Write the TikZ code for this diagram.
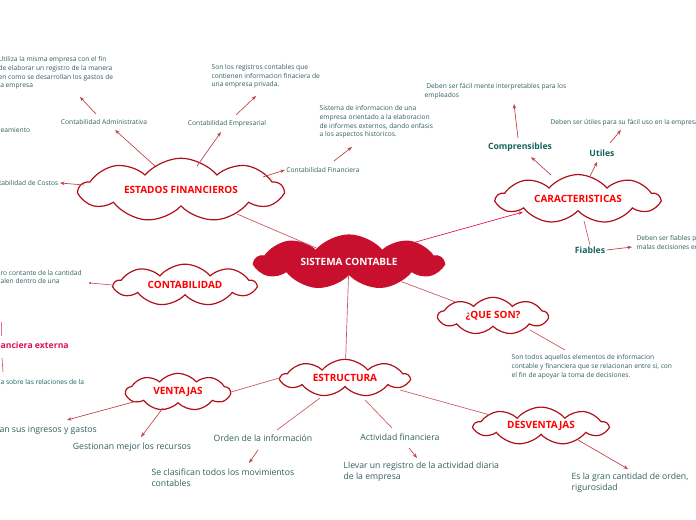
\documentclass[tikz,border=0pt]{standalone}
\usepackage{fontspec}
\setmainfont{Open Sans}
\usetikzlibrary{shapes.symbols,arrows.meta}
\definecolor{dred}{HTML}{B0101A}
\definecolor{crim}{HTML}{C8102E}
\definecolor{teal}{HTML}{2F5F5C}
\definecolor{bteal}{HTML}{17625C}
\definecolor{pinkc}{HTML}{E0105A}
\begin{document}
\begin{tikzpicture}[x=0.75pt,y=-0.75pt,
 cl/.style={cloud,cloud puffs=9,cloud puff arc=100,aspect=4,draw=dred,line width=0.9pt,fill=white,text=red,font=\bfseries\fontsize{7.5}{9}\selectfont,inner sep=0pt},
 lbl/.style={text=teal,font=\fontsize{5}{6.5}\selectfont,align=left,inner sep=1pt},
 big/.style={text=teal,font=\fontsize{6.5}{8.5}\selectfont,align=left,inner sep=1pt},
 bl/.style={text=bteal,font=\bfseries\fontsize{6.5}{8}\selectfont,inner sep=1pt},
 ar/.style={draw=dred!80,line width=0.5pt,-{Stealth[length=3.5pt]}},
 ln/.style={draw=dred!70,line width=0.5pt}]
\useasboundingbox (0,0) rectangle (696,520);
% main clouds
\node[cl,fill=crim,draw=crim,text=white,minimum width=140,minimum height=26] (sc) at (349,262) {SISTEMA CONTABLE};
\node[cl,minimum width=152,minimum height=28] (ef) at (181,190) {ESTADOS FINANCIEROS};
\node[cl,minimum width=122,minimum height=28] (ca) at (578,199) {CARACTERISTICAS};
\node[cl,minimum width=106,minimum height=28] (co) at (185,285) {CONTABILIDAD};
\node[cl,minimum width=82,minimum height=28] (qs) at (493,316) {¿QUE SON?};
\node[cl,minimum width=96,minimum height=28] (es) at (345,378) {ESTRUCTURA};
\node[cl,minimum width=78,minimum height=28] (ve) at (178,392) {VENTAJAS};
\node[cl,minimum width=100,minimum height=28] (de) at (541,426) {DESVENTAJAS};
% Estados financieros
\node[lbl] (cad) at (104,122) {Contabilidad Administrativa};
\node[lbl,anchor=north west] (cadt) at (-3,55) {Utiliza la misma empresa con el fin\\de elaborar un registro de la manera\\en como se desarrollan los gastos de\\la empresa};
\node[lbl] (cem) at (227,124) {Contabilidad Empresarial};
\node[lbl,anchor=north west] (cemt) at (210,63) {Son los registros contables que\\contienen informacion finaciera de\\una empresa privada.};
\node[lbl] (cfi) at (323,170) {Contabilidad Financiera};
\node[lbl,anchor=north west] (cfit) at (318,104) {Sistema de informacion de una\\empresa orientado a la elaboracion\\de informes externos, dando enfasis\\a los aspectos historicos.};
\node[lbl,anchor=west] (pla) at (-1,130) {eamiento};
\node[lbl,anchor=east] (cos) at (60,183) {Contabilidad de Costos};
\draw[ar] (155,166) -- (115,130);
\draw[ar] (96,114) -- (80,97);
\draw[ar] (197,166) -- (221,132);
\draw[ar] (236,115) -- (256,96);
\draw[ar] (263,177) -- (cfi.west);
\draw[ar] (334,161) -- (352,147);
\draw[ar] (84,185) -- (cos.east);
% Contabilidad
\coordinate (cop) at (90,283);
\draw[ln] (co.west) -- (cop); \fill[dred] (cop) circle (1);
\node[lbl,anchor=west] (cot) at (-1,277) {ro contante de la cantidad\\alen dentro de una};
\node[text=pinkc,font=\bfseries\fontsize{6.5}{8}\selectfont,anchor=west,inner sep=1pt] (ext) at (-1,345) {anciera externa};
\node[lbl,anchor=west,text=bteal] (rel) at (-1,382) {a  sobre las relaciones de la};
\draw[ln,pinkc!60] (1,322) -- (1,336);
\draw[ln] (2,358) -- (3,372);
% central links
\draw[ln] (sc) -- (ef);
\draw[ar,draw=pinkc] (405,245) -- (523,212);
\draw[ln] (sc) -- (qs);
\draw[ln] (sc) -- (es);
% caracteristicas
\node[bl] (cpr) at (520,147) {Comprensibles};
\node[lbl,anchor=north west] (cprt) at (423,82) {~Deben ser fácil mente interpretables para los\\empleados};
\node[bl] (uti) at (602,153) {Utiles};
\node[lbl,anchor=west] (utit) at (549,123) {Deben ser útiles para su fácil uso en la empresa};
\node[bl] (fia) at (590,250) {Fiables};
\node[lbl,anchor=west] (fiat) at (635,243) {Deben ser fiables para no tomar\\malas decisiones en la empresa};
\draw[ar] (551,175) -- (531,157);
\draw[ar] (518,138) -- (514,104);
\draw[ar] (590,176) -- (597,162);
\draw[ar] (610,143) -- (621,130);
\draw[ln] (584,221) -- (fia.north);
\draw[ar] (fia.east) -- (632,247);
% que son
\node[lbl,anchor=north west] (qst) at (510,353) {Son todos aquellos elementos de informacion\\contable y financiera que se relacionan entre si, con\\el fin de apoyar la toma de decisiones.};
\draw[ln] (530,330) -- (565,350);
% ventajas
\draw[ln] (es.west) -- (ve.east);
\node[big] (gmr) at (132,447) {Gestionan mejor los recursos};
\node[big,anchor=west] (gig) at (-2,430) {an sus ingresos y gastos};
\draw[ar] (163,408) -- (141,437);
\draw[ar] (137,401) -- (67,420);
% estructura
\node[big] (ord) at (263,438) {Orden de la información};
\node[big,anchor=north west] (sct) at (150,467) {Se clasifican todos los movimientos\\contables};
\node[big] (act) at (400,437) {Actividad financiera};
\node[big,anchor=north west] (llv) at (342,460) {Llevar un registro de la actividad diaria\\de la empresa};
\draw[ln] (320,398) -- (277,430);
\draw[ar] (258,450) -- (249,463);
\draw[ln] (365,400) -- (392,428);
\draw[ar] (409,448) -- (417,458);
% desventajas
\draw[ln] (400,390) -- (490,415);
\node[big,anchor=north west] (dst) at (570,471) {Es la gran cantidad de orden,\\rigurosidad};
\draw[ar] (578,440) -- (628,469);
\end{tikzpicture}
\end{document}
